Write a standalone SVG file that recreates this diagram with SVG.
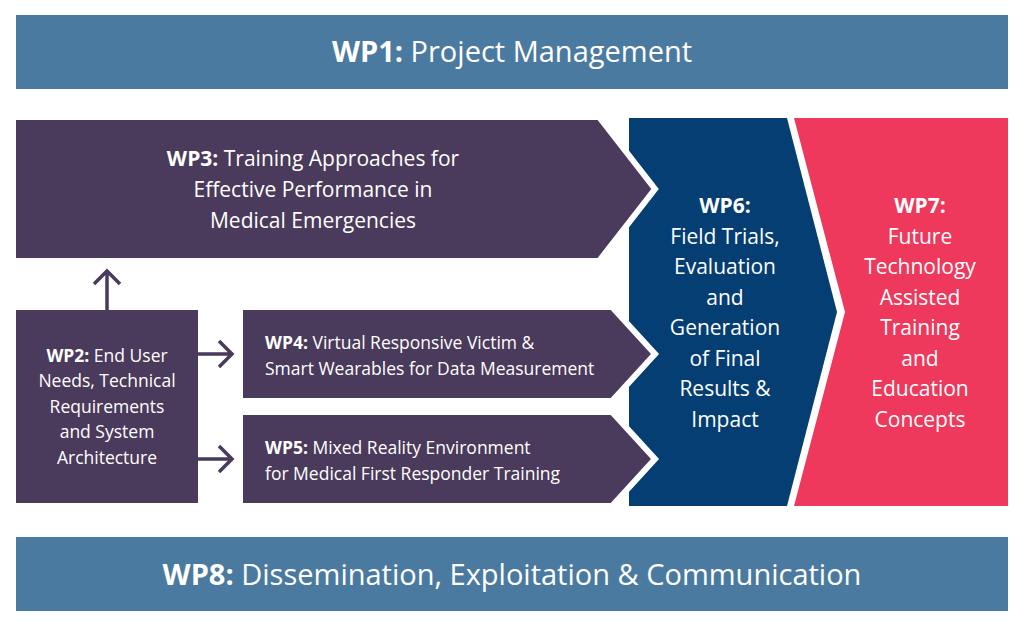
<svg xmlns="http://www.w3.org/2000/svg" width="1024" height="626" viewBox="0 0 1024 626">
<style>
text{font-family:"Open Sans","Liberation Sans",sans-serif;fill:#fff;text-anchor:middle}
.b{font-weight:bold}
.p{fill:#4a3a5b;stroke:#fff;stroke-width:6;stroke-linejoin:miter}
.bl{fill:#4b7aa0}
.ln{stroke:#4a3a5b;stroke-width:3.5;fill:none}
</style>
<rect width="1024" height="626" fill="#fff"/>
<g id="wp1"><rect class="bl" x="16" y="15" width="992" height="74"/>
<text x="512" y="62" font-size="29"><tspan class="b">WP1:</tspan> Project Management</text></g>
<g id="wp6"><polygon fill="#043e73" points="629,118 787,118 837,312 787,506 629,506"/>
<text font-size="21"><tspan x="725" y="213" class="b">WP6:</tspan><tspan x="725" y="244">Field Trials,</tspan><tspan x="725" y="274">Evaluation</tspan><tspan x="725" y="305">and</tspan><tspan x="725" y="335">Generation</tspan><tspan x="725" y="366">of Final</tspan><tspan x="725" y="396">Results &amp;</tspan><tspan x="725" y="427">Impact</tspan></text></g>
<g id="wp7"><polygon fill="#ee385c" points="794,118 1008,118 1008,506 794,506 845,312"/>
<text font-size="21"><tspan x="920" y="213" class="b">WP7:</tspan><tspan x="920" y="244">Future</tspan><tspan x="920" y="274">Technology</tspan><tspan x="920" y="305">Assisted</tspan><tspan x="920" y="335">Training</tspan><tspan x="920" y="366">and</tspan><tspan x="920" y="396">Education</tspan><tspan x="920" y="427">Concepts</tspan></text></g>
<g id="wp3"><polygon class="p" points="13,117 599,117 655,189 599,261 13,261"/>
<text font-size="21"><tspan x="313" y="166"><tspan class="b">WP3:</tspan> Training Approaches for</tspan><tspan x="313" y="197">Effective Performance in</tspan><tspan x="313" y="228">Medical Emergencies</tspan></text></g>
<g id="wp2"><rect fill="#4a3a5b" x="16" y="310" width="182" height="193"/>
<text font-size="17.5"><tspan x="107" y="362"><tspan class="b">WP2:</tspan> End User</tspan><tspan x="107" y="387">Needs, Technical</tspan><tspan x="107" y="413">Requirements</tspan><tspan x="107" y="438">and System</tspan><tspan x="107" y="464">Architecture</tspan></text></g>
<g id="wp4"><polygon class="p" points="240,307 612,307 655,354 612,401 240,401"/>
<text font-size="17.5" style="text-anchor:start"><tspan x="265" y="349"><tspan class="b">WP4:</tspan> Virtual Responsive Victim &amp;</tspan><tspan x="265" y="375">Smart Wearables for Data Measurement</tspan></text></g>
<g id="wp5"><polygon class="p" points="240,412 612,412 655,459 612,506 240,506"/>
<text font-size="17.5" style="text-anchor:start"><tspan x="265" y="454"><tspan class="b">WP5:</tspan> Mixed Reality Environment</tspan><tspan x="265" y="480">for Medical First Responder Training</tspan></text></g>
<g id="wp8"><rect class="bl" x="16" y="537" width="992" height="74"/>
<text x="512" y="585" font-size="29"><tspan class="b">WP8:</tspan> Dissemination, Exploitation &amp; Communication</text></g>
<g id="connectors">
<path class="ln" d="M107,310V272M94,284L107,271L120,284"/>
<path class="ln" d="M198,354H231M219,341L232,354L219,367"/>
<path class="ln" d="M198,459H231M219,446L232,459L219,472"/>
</g>
</svg>
